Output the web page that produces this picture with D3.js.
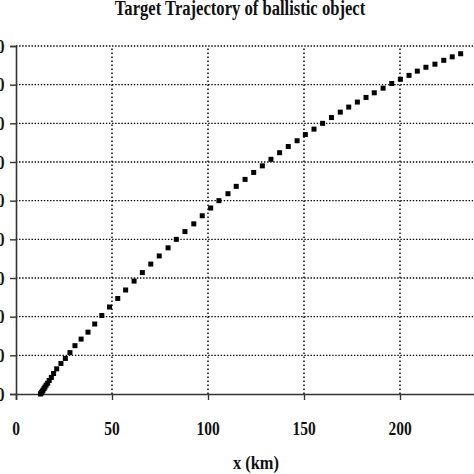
<!DOCTYPE html>
<html>
<head>
<meta charset="utf-8">
<script src="https://cdn.jsdelivr.net/npm/d3@7"></script>
<style>
  html, body { margin: 0; padding: 0; background: #fff; }
  svg { display: block; }
</style>
</head>
<body>
<div id="chart"></div>
<script>
// trajectory samples (x in km, height in km)
const xKm = [
  12.8, 13.0, 13.3, 13.7, 14.1, 14.6, 15.1, 15.7, 16.5, 17.3, 18.4, 19.6, 21.2,
  23.4, 25.7, 28.1, 30.7, 33.9, 37.5, 41.0, 44.7, 48.7, 53.0, 57.1, 61.5, 65.8,
  70.2, 74.6, 79.2, 83.5, 88.0, 92.6, 97.0, 101.4, 105.7, 110.4, 114.7, 119.3,
  123.8, 128.3, 132.8, 137.3, 141.8, 146.4, 150.7, 155.2, 159.7, 164.3, 168.9,
  173.3, 177.8, 182.3, 186.6, 191.2, 195.7, 200.2, 204.7, 209.0, 213.5, 218.2,
  222.8, 227.2, 231.6,
];
const heightKm = [
  0.0, 0.2, 0.4, 0.7, 1.0, 1.4, 1.8, 2.3, 2.8, 3.5, 4.3, 5.3, 6.5,
  7.9, 9.2, 10.7, 12.5, 14.2, 16.0, 18.1, 20.3, 22.5, 24.7, 26.9, 29.2, 31.4,
  33.6, 35.7, 37.8, 40.0, 42.0, 44.0, 46.1, 48.1, 50.0, 51.8, 53.7, 55.5,
  57.3, 59.0, 60.7, 62.4, 64.0, 65.5, 67.1, 68.5, 70.0, 71.5, 72.9,
  74.2, 75.5, 76.7, 77.9, 79.1, 80.3, 81.4, 82.4, 83.5, 84.5, 85.3,
  86.3, 87.2, 88.0,
];
const xTicks = [0, 50, 100, 150, 200, 250];
const xTickLabels = [0, 50, 100, 150, 200]; // 250 sits off the cropped edge
const yTicks = [0, 10, 20, 30, 40, 50, 60, 70, 80, 90];

const titleText = 'Target Trajectory of ballistic object';
const xLabelText = 'x (km)';

const width = 474;
const height = 474;
const margin = { top: 46, bottom: 80, left: 16, right: -22 }; // plot runs past the right edge

const points = xKm.map((x, i) => ({ x, y: heightKm[i] }));

const svg = d3
  .select('#chart')
  .append('svg')
  .attr('width', width)
  .attr('height', height);

const xScale = d3
  .scaleLinear()
  .domain([0, 250])
  .range([margin.left, width - margin.right]);

const yScale = d3
  .scaleLinear()
  .domain([0, 90])
  .range([height - margin.bottom, margin.top]);

const serif = '"Liberation Serif", "Times New Roman", serif';

// dotted grid
const grid = svg
  .append('g')
  .attr('stroke', '#000')
  .attr('stroke-width', 1.4)
  .attr('stroke-dasharray', '1.4,1.7');

grid
  .selectAll('.hgrid')
  .data(yTicks.filter((d) => d > 0))
  .join('line')
  .attr('class', 'hgrid')
  .attr('x1', xScale(0))
  .attr('x2', xScale(250))
  .attr('y1', (d) => yScale(d))
  .attr('y2', (d) => yScale(d));

grid
  .selectAll('.vgrid')
  .data(xTicks.filter((d) => d > 0))
  .join('line')
  .attr('class', 'vgrid')
  .attr('stroke-dasharray', '1.4,2.6')
  .attr('x1', (d) => xScale(d))
  .attr('x2', (d) => xScale(d))
  .attr('y1', yScale(0))
  .attr('y2', yScale(90));

// axes
const xAxis = svg
  .append('g')
  .attr('transform', `translate(0,${yScale(0)})`)
  .call(d3.axisBottom(xScale).tickValues(xTicks).tickSize(6).tickFormat(''));

const yAxis = svg
  .append('g')
  .attr('transform', `translate(${xScale(0)},0)`)
  .call(d3.axisLeft(yScale).tickValues(yTicks).tickSize(6).tickFormat(''));

[xAxis, yAxis].forEach((g) => {
  g.select('.domain').attr('stroke', '#333').attr('stroke-width', 1.6);
  g.selectAll('.tick line').attr('stroke', '#333').attr('stroke-width', 1.4);
});

// tick labels (slightly tall, like the picture)
svg
  .append('g')
  .selectAll('g')
  .data(xTickLabels)
  .join('g')
  .attr('transform', (d) => `translate(${xScale(d)},435) scale(1,1.25)`)
  .append('text')
  .attr('text-anchor', 'middle')
  .attr('font-family', serif)
  .attr('font-weight', 'bold')
  .attr('font-size', 15.5)
  .attr('fill', '#111')
  .text((d) => d);

// y labels: only their last glyph shows at the left edge, as in the picture
svg
  .append('g')
  .selectAll('g')
  .data(yTicks)
  .join('g')
  .attr('transform', (d) => `translate(4.5,${yScale(d) + 6.5}) scale(1,1.25)`)
  .append('text')
  .attr('text-anchor', 'end')
  .attr('font-family', serif)
  .attr('font-weight', 'bold')
  .attr('font-size', 15.5)
  .attr('fill', '#111')
  .text((d) => d);

// data points
const size = 5;
svg
  .append('g')
  .selectAll('rect')
  .data(points)
  .join('rect')
  .attr('x', (d) => xScale(d.x) - size / 2)
  .attr('y', (d) => yScale(d.y) - size / 2)
  .attr('width', size)
  .attr('height', size)
  .attr('fill', '#000');

// title and axis label
svg
  .append('g')
  .attr('transform', 'translate(240,15) scale(1,1.2)')
  .append('text')
  .attr('text-anchor', 'middle')
  .attr('font-family', serif)
  .attr('font-weight', 'bold')
  .attr('font-size', 16.6)
  .attr('fill', '#111')
  .text(titleText);

svg
  .append('g')
  .attr('transform', 'translate(256,469) scale(1,1.1)')
  .append('text')
  .attr('text-anchor', 'middle')
  .attr('font-family', serif)
  .attr('font-weight', 'bold')
  .attr('font-size', 16.4)
  .attr('fill', '#111')
  .text(xLabelText);
</script>
</body>
</html>
